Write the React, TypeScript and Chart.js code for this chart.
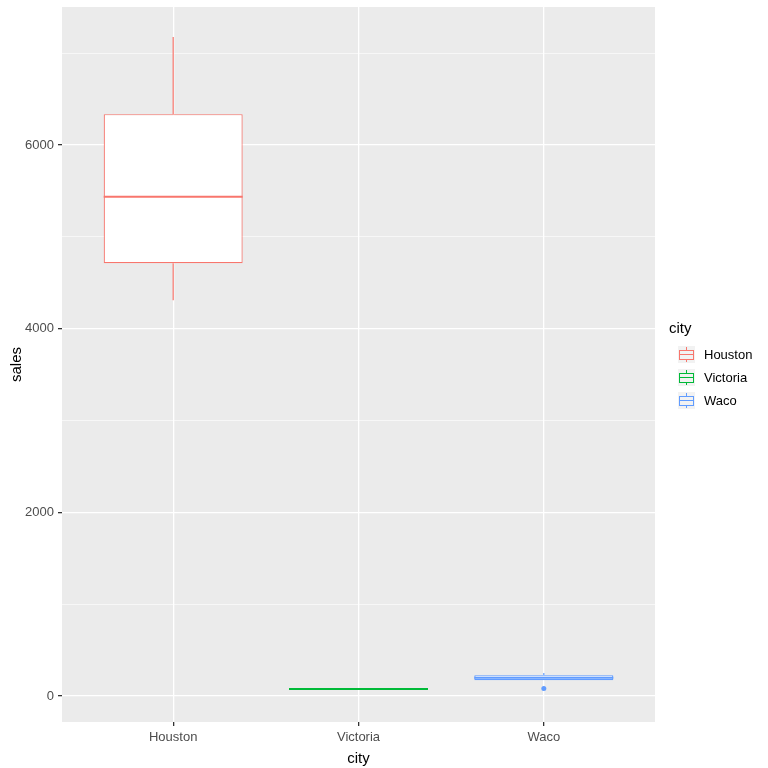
import { useEffect, useRef } from 'react';
import { Chart, registerables } from 'chart.js';

Chart.register(...registerables);

const cities = ['Houston', 'Victoria', 'Waco'];
const whiskerLow = [4308, 70, 172];
const q1 = [4712, 66, 172];
const median = [5436, 76, 198];
const q3 = [6336, 86, 226];
const whiskerHigh = [7175, 86, 250];
const outlierCity = [3];
const outlierSales = [80];
const yTicks = [0, 1000, 2000, 3000, 4000, 5000, 6000, 7000];
const colors = ['#F8766D', '#00BA38', '#619CFF'];

const FONT = '"Liberation Sans", Arial, sans-serif';

const boxParts = {
  id: 'boxParts',
  beforeDraw(chart: any) {
    const { ctx, chartArea } = chart;
    ctx.save();
    ctx.fillStyle = '#EBEBEB';
    ctx.fillRect(chartArea.left, chartArea.top, chartArea.right - chartArea.left, chartArea.bottom - chartArea.top);
    ctx.restore();
  },
  beforeDatasetsDraw(chart: any) {
    const { ctx } = chart;
    const xs = chart.scales.x;
    const ys = chart.scales.y;
    ctx.save();
    ctx.lineWidth = 1.2;
    cities.forEach((_, i) => {
      const x = xs.getPixelForValue(i + 1);
      ctx.strokeStyle = colors[i];
      ctx.beginPath();
      ctx.moveTo(x, ys.getPixelForValue(whiskerHigh[i]));
      ctx.lineTo(x, ys.getPixelForValue(q3[i]));
      ctx.moveTo(x, ys.getPixelForValue(whiskerLow[i]));
      ctx.lineTo(x, ys.getPixelForValue(q1[i]));
      ctx.stroke();
    });
    ctx.restore();
  },
  afterDatasetsDraw(chart: any) {
    const { ctx } = chart;
    const ys = chart.scales.y;
    const meta = chart.getDatasetMeta(0);
    ctx.save();
    ctx.lineWidth = 2;
    meta.data.forEach((bar: any, i: number) => {
      const { x, width } = bar.getProps(['x', 'width'], true);
      const y = ys.getPixelForValue(median[i]);
      ctx.strokeStyle = colors[i];
      ctx.beginPath();
      ctx.moveTo(x - width / 2, y);
      ctx.lineTo(x + width / 2, y);
      ctx.stroke();
    });
    ctx.restore();
  },
};

function LegendKey({ color }: { color: string }) {
  return (
    <span style={{ position: 'relative', width: 17, height: 17, background: '#F2F2F2', display: 'inline-block' }}>
      <span style={{ position: 'absolute', left: 8, top: 1, width: 1, height: 15, background: color }} />
      <span
        style={{
          position: 'absolute',
          left: 1,
          top: 4,
          width: 13,
          height: 8,
          border: `1px solid ${color}`,
          background: '#F2F2F2',
        }}
      />
      <span style={{ position: 'absolute', left: 1, top: 8, width: 15, height: 1, background: color }} />
    </span>
  );
}

export default function App() {
  const canvasRef = useRef<HTMLCanvasElement>(null);
  const chartRef = useRef<Chart | null>(null);

  useEffect(() => {
    if (!canvasRef.current) return;
    chartRef.current?.destroy();

    const major = (v: number) => v % 2000 === 0;

    chartRef.current = new Chart(canvasRef.current, {
      type: 'bar',
      data: {
        datasets: [
          {
            type: 'bar',
            data: cities.map((_, i) => ({ x: i + 1, y: [q1[i], q3[i]] })) as any,
            backgroundColor: '#FFFFFF',
            borderColor: colors,
            borderWidth: 1.2,
            borderSkipped: false,
            categoryPercentage: 0.75,
            barPercentage: 1,
            grouped: false,
          },
          {
            type: 'scatter',
            data: outlierCity.map((c, i) => ({ x: c, y: outlierSales[i] })),
            backgroundColor: outlierCity.map((c) => colors[c - 1]),
            borderWidth: 0,
            pointRadius: 2.5,
          } as any,
        ],
      },
      options: {
        animation: false,
        responsive: true,
        maintainAspectRatio: false,
        layout: { padding: { top: 7, right: 113, left: 0, bottom: 0 } },
        plugins: {
          legend: { display: false },
          tooltip: { enabled: false },
        },
        scales: {
          x: {
            type: 'linear',
            min: 0.4,
            max: 3.6,
            offset: false,
            afterBuildTicks: (s: any) => {
              s.ticks = cities.map((_, i) => ({ value: i + 1 }));
            },
            afterFit: (s: any) => {
              s.height = 46;
              s.paddingLeft = 0;
              s.paddingRight = 0;
            },
            ticks: {
              callback: (v: any) => cities[Math.round(Number(v)) - 1] ?? '',
              color: '#4D4D4D',
              font: { size: 13, family: FONT },
              padding: 4,
              maxRotation: 0,
              autoSkip: false,
            },
            grid: {
              color: '#FFFFFF',
              lineWidth: 1.3,
              tickColor: '#333333',
              tickLength: 4,
              offset: false,
            },
            border: { display: false },
            title: {
              display: true,
              text: 'city',
              color: '#000000',
              font: { size: 15, family: FONT },
              padding: { top: 0, bottom: 0 },
            },
          },
          y: {
            type: 'linear',
            min: -284,
            max: 7503,
            afterBuildTicks: (s: any) => {
              s.ticks = yTicks.map((v) => ({ value: v }));
            },
            afterFit: (s: any) => {
              s.width = 62;
              s.paddingTop = 0;
              s.paddingBottom = 0;
            },
            ticks: {
              callback: (v: any) => (major(Number(v)) ? String(v) : ''),
              color: '#4D4D4D',
              font: { size: 13, family: FONT },
              padding: 4,
              autoSkip: false,
            },
            grid: {
              color: '#FFFFFF',
              lineWidth: (c: any) => (c.tick && major(c.tick.value) ? 1.3 : 0.6),
              tickColor: (c: any) => (c.tick && major(c.tick.value) ? '#333333' : 'rgba(0,0,0,0)'),
              tickLength: 4,
            },
            border: { display: false },
            title: {
              display: true,
              text: 'sales',
              color: '#000000',
              font: { size: 15, family: FONT },
              padding: { top: 8, bottom: 0 },
            },
          },
        },
      },
      plugins: [boxParts],
    });

    return () => {
      chartRef.current?.destroy();
      chartRef.current = null;
    };
  }, []);

  return (
    <div style={{ position: 'fixed', left: 0, top: 0, width: 768, height: 768, background: '#FFFFFF', fontFamily: FONT }}>
      <canvas ref={canvasRef} />
      <div style={{ position: 'absolute', left: 669, top: 319, color: '#000000' }}>
        <div style={{ fontSize: 15, marginBottom: 7 }}>city</div>
        {cities.map((c, i) => (
          <div key={c} style={{ display: 'flex', alignItems: 'center', height: 23, paddingLeft: 9 }}>
            <LegendKey color={colors[i]} />
            <span style={{ fontSize: 13, marginLeft: 9 }}>{c}</span>
          </div>
        ))}
      </div>
    </div>
  );
}
